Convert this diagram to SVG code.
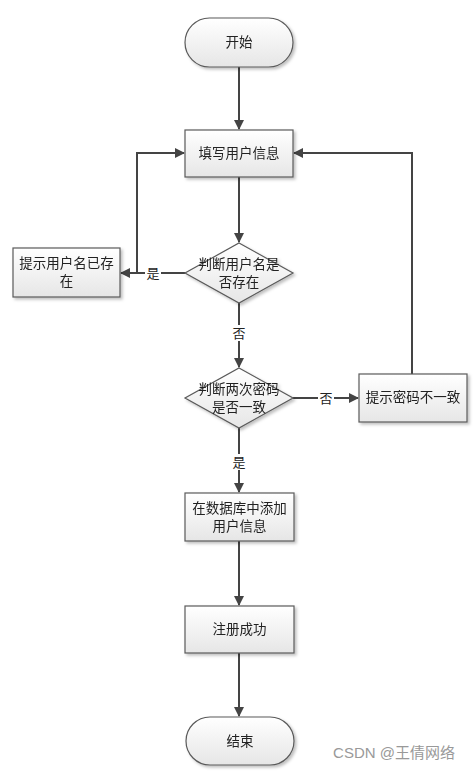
<svg xmlns="http://www.w3.org/2000/svg" width="474" height="773" viewBox="0 0 474 773">
<style>
.shape{fill:url(#g);stroke:#5a5a5a;stroke-width:1.2}
.t{font-family:"Liberation Serif","Noto Sans CJK SC",serif;font-size:13.5px;fill:#222;text-anchor:middle}
.lbl{font-family:"Liberation Serif","Noto Sans CJK SC",serif;font-size:13px;fill:#222;text-anchor:middle}
.c{fill:none;stroke:#444;stroke-width:2}
</style>
<defs>
<linearGradient id="g" x1="0" y1="0" x2="0" y2="1">
<stop offset="0" stop-color="#ffffff"/>
<stop offset="1" stop-color="#e6e6e6"/>
</linearGradient>
<filter id="sh" x="-10%" y="-10%" width="130%" height="140%">
<feDropShadow dx="2" dy="2" stdDeviation="1.5" flood-color="#000" flood-opacity="0.25"/>
</filter>
<marker id="a" markerWidth="10" markerHeight="10" refX="9" refY="5" orient="auto" markerUnits="userSpaceOnUse">
<path d="M0,0 L10,5 L0,10 Z" fill="#444"/>
</marker>
</defs>
<rect width="474" height="773" fill="#fff"/>
<g id="connectors">
<line class="c" x1="239" y1="67" x2="239" y2="129" marker-end="url(#a)"/>
<line class="c" x1="239" y1="177" x2="239" y2="242" marker-end="url(#a)"/>
<polyline class="c" points="185,273 121,273" marker-end="url(#a)"/>
<polyline class="c" points="137,273 137,153 184,153" marker-end="url(#a)"/>
<line class="c" x1="239" y1="303" x2="239" y2="367" marker-end="url(#a)"/>
<line class="c" x1="293" y1="398" x2="358" y2="398" marker-end="url(#a)"/>
<polyline class="c" points="412,374 412,153 294,153" marker-end="url(#a)"/>
<line class="c" x1="239" y1="428" x2="239" y2="492" marker-end="url(#a)"/>
<line class="c" x1="239" y1="541" x2="239" y2="605" marker-end="url(#a)"/>
<line class="c" x1="239" y1="653" x2="239" y2="716" marker-end="url(#a)"/>
<rect x="145" y="265" width="16" height="16" fill="#fff"/>
<text class="lbl" x="153" y="278">是</text>
<rect x="231" y="325" width="16" height="16" fill="#fff"/>
<text class="lbl" x="239" y="338">否</text>
<rect x="318" y="390" width="16" height="16" fill="#fff"/>
<text class="lbl" x="326" y="403">否</text>
<rect x="231" y="454" width="16" height="16" fill="#fff"/>
<text class="lbl" x="239" y="467">是</text>
</g>
<g id="start" filter="url(#sh)">
<rect class="shape" x="185" y="18" width="108" height="49" rx="24.5"/>
<text class="t" x="239" y="47">开始</text>
</g>
<g id="fill" filter="url(#sh)">
<rect class="shape" x="185" y="130" width="108" height="47"/>
<text class="t" x="239" y="158">填写用户信息</text>
</g>
<g id="check-user" filter="url(#sh)">
<polygon class="shape" points="239,243 293,273 239,303 185,273"/>
<text class="t" x="239" y="269">判断用户名是</text>
<text class="t" x="239" y="287">否存在</text>
</g>
<g id="user-exists" filter="url(#sh)">
<rect class="shape" x="13" y="248" width="107" height="49"/>
<text class="t" x="66.5" y="268">提示用户名已存</text>
<text class="t" x="66.5" y="286">在</text>
</g>
<g id="check-pwd" filter="url(#sh)">
<polygon class="shape" points="239,368 293,398 239,428 185,398"/>
<text class="t" x="239" y="394">判断两次密码</text>
<text class="t" x="239" y="412">是否一致</text>
</g>
<g id="pwd-mismatch" filter="url(#sh)">
<rect class="shape" x="359" y="374" width="108" height="48"/>
<text class="t" x="413" y="402">提示密码不一致</text>
</g>
<g id="add-db" filter="url(#sh)">
<rect class="shape" x="185" y="493" width="109" height="48"/>
<text class="t" x="239.5" y="513">在数据库中添加</text>
<text class="t" x="239.5" y="531">用户信息</text>
</g>
<g id="success" filter="url(#sh)">
<rect class="shape" x="185" y="606" width="109" height="47"/>
<text class="t" x="239.5" y="634">注册成功</text>
</g>
<g id="end" filter="url(#sh)">
<rect class="shape" x="186" y="717" width="108" height="48" rx="24"/>
<text class="t" x="240" y="746">结束</text>
</g>
<text x="394" y="758" font-family="'Liberation Sans','Noto Sans CJK SC',sans-serif" font-size="15" fill="#999" text-anchor="middle">CSDN @王倩网络</text>
</svg>
